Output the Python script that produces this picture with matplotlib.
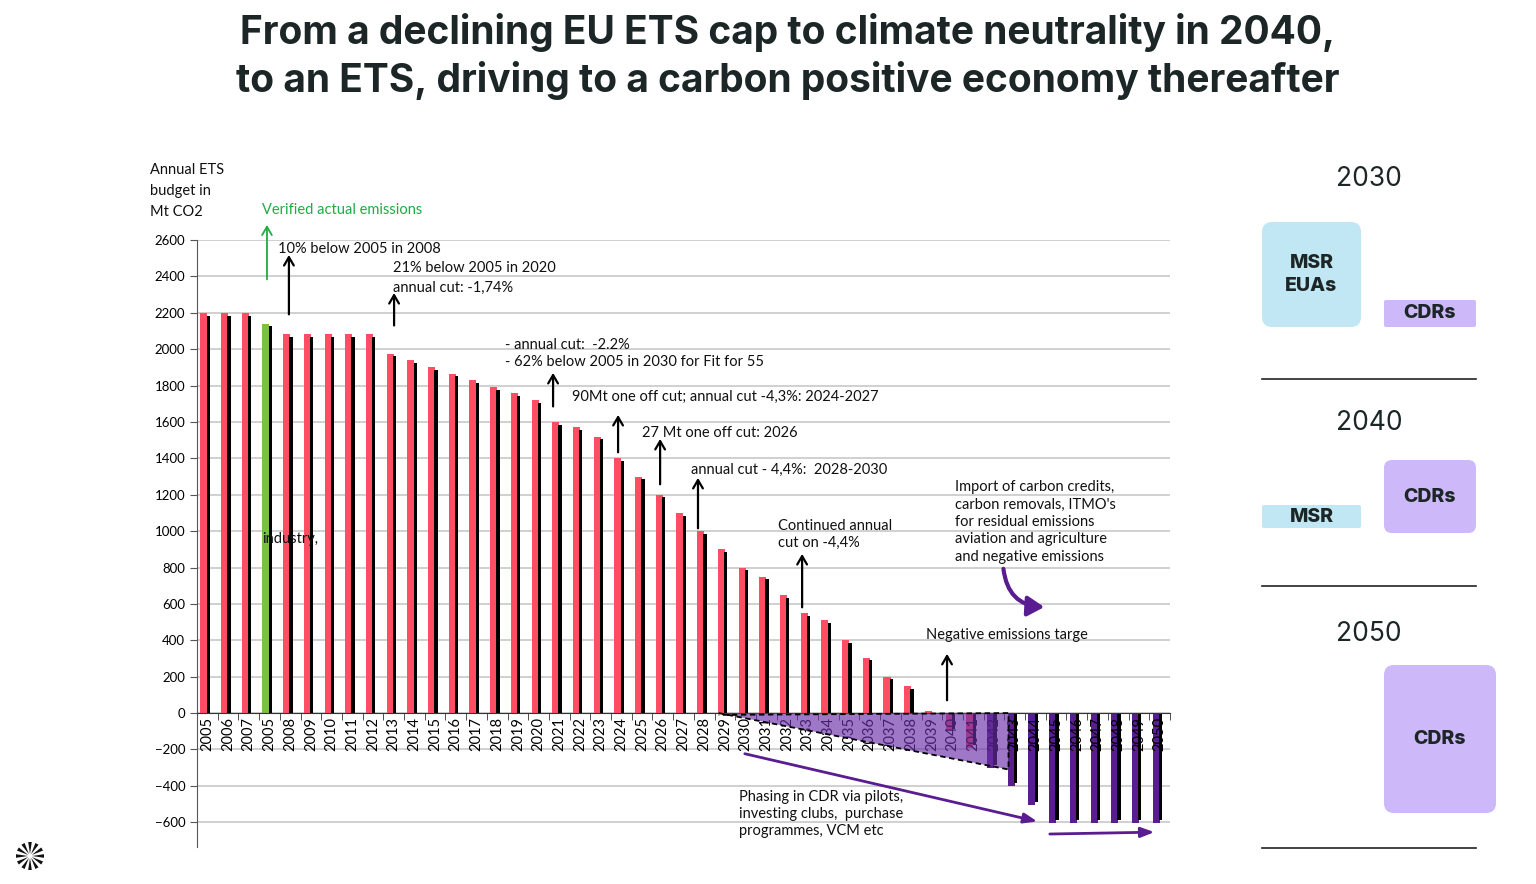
import numpy as np
import matplotlib
matplotlib.use("Agg")
import matplotlib.pyplot as plt
from matplotlib.patches import FancyBboxPatch, Polygon

plt.rcParams['font.family'] = ['Lato', 'DejaVu Sans']

# category labels (the 4th bar is the verified 2005 emissions)
year_labels = ["2005", "2006", "2007", "2005"] + [str(y) for y in range(2008, 2051)]
verified_idx = 3

# annual ETS cap, Mt CO2
cap_values = [2200, 2200, 2200, 2140,
              2083, 2083, 2083, 2083, 2083,
              1975, 1938, 1902, 1866, 1828, 1792, 1757, 1720,
              1600, 1570, 1520, 1400, 1300, 1200, 1100, 1000,
              900, 800, 750, 650, 550, 510, 400, 305, 200, 150, 10,
              -100, -190, -300, -400, -505, -605, -605, -605, -605, -605, -605]
cdr_start_year = "2042"

# CDR phase-in wedge
phase_in_years = ["2029", "2043"]
phase_in_depth = -310

# right-hand panel
panel_years = ["2030", "2040", "2050"]

RED = "#ff4d63"
GREEN = "#7cc242"
PURPLE = "#5a1d91"
DARK = "#1c2626"

fig = plt.figure(figsize=(15.36, 8.84), dpi=100)
ax = fig.add_axes([197 / 1536, 37 / 884, 973 / 1536, 607 / 884])

x = np.arange(len(year_labels))
cap = np.array(cap_values, dtype=float)
cdr_pos = year_labels.index(cdr_start_year)
colors = []
for i in range(len(year_labels)):
    if i == verified_idx:
        colors.append(GREEN)
    elif i >= cdr_pos:
        colors.append(PURPLE)
    else:
        colors.append(RED)

# bar + excel-like black shadow
ax.bar(x - 0.17, cap, width=0.34, color=colors, zorder=3)
shadow = cap - np.sign(cap) * 15
ax.bar(x + 0.04, shadow, width=0.16, color="black", zorder=3)

# phase-in wedge
p0 = year_labels.index(phase_in_years[0]) - 0.3
p1 = year_labels.index(phase_in_years[1]) - 0.3
wedge = Polygon([[p0, 0], [p1, phase_in_depth], [p1, 0]], closed=True,
                facecolor="#6a2fa8", alpha=0.65, edgecolor="none", zorder=4)
ax.add_patch(wedge)
ax.plot([p0, p1, p1, p0], [0, phase_in_depth, 0, -10], ls=(0, (3, 2)),
        color="black", lw=1.3, zorder=5)

ax.set_xlim(-0.5, len(year_labels) - 0.5)
ax.set_ylim(-736, 2600)
ax.set_yticks(np.arange(-600, 2601, 200))
ax.grid(axis="y", color="#c8c8c8", lw=1.2, zorder=0)
ax.set_axisbelow(True)

ax.spines["top"].set_visible(False)
ax.spines["right"].set_visible(False)
ax.spines["bottom"].set_position(("data", 0))
ax.spines["bottom"].set_color("#333333")
ax.spines["bottom"].set_zorder(3.5)
ax.spines["left"].set_color("#555555")
ax.set_xticks(x)
ax.set_xticklabels([])
ax.set_xticks(np.arange(-0.5, len(year_labels), 1), minor=True)
ax.tick_params(axis="x", which="major", length=0)
ax.tick_params(axis="x", which="minor", length=5, color="#333333")
ax.tick_params(axis="y", length=5, labelsize=9.5, colors="#555555", labelcolor="black")

# year labels drawn as texts so they sit on top of the negative bars
for i, lab in enumerate(year_labels):
    ax.text(i, -22, lab, rotation=90, ha="center", va="top", fontsize=10.5,
            color="black", zorder=3.6)

ann_kw = dict(fontsize=10.5, color="#111111")


def up_arrow(xp, y0, y1, color="black", lw=1.6):
    ax.annotate("", xy=(xp, y1), xytext=(xp, y0), annotation_clip=False,
                arrowprops=dict(arrowstyle="->,head_length=0.6,head_width=0.35",
                                color=color, lw=lw), zorder=6)


up_arrow(2.88, 2368, 2698, color="#22aa44", lw=1.3)
ax.text(2.64, 2764, "Verified actual emissions", color="#22aa44", fontsize=10.5,
        va="center", clip_on=False)

up_arrow(3.94, 2176, 2533)
ax.text(3.41, 2550, "10% below 2005 in 2008", va="center", **ann_kw)

up_arrow(9.02, 2115, 2324)
ax.text(8.97, 2445, "21% below 2005 in 2020", va="center", **ann_kw)
ax.text(8.97, 2335, "annual cut: -1,74%", va="center", **ann_kw)

up_arrow(16.7, 1670, 1885)
ax.text(14.38, 2022, "- annual cut:  -2.2%", va="center", **ann_kw)
ax.text(14.38, 1929, "- 62% below 2005 in 2030 for Fit for 55", va="center", **ann_kw)

up_arrow(19.84, 1418, 1654)
ax.text(17.62, 1736, "90Mt one off cut; annual cut -4,3%: 2024-2027", va="center", **ann_kw)

up_arrow(21.87, 1242, 1522)
ax.text(20.99, 1539, "27 Mt one off cut: 2026", va="center", **ann_kw)

up_arrow(23.7, 1000, 1308)
ax.text(23.36, 1335, "annual cut - 4,4%:  2028-2030", va="center", **ann_kw)

up_arrow(28.73, 566, 890)
ax.text(27.57, 981, "Continued annual\ncut on -4,4%", va="center", linespacing=1.3, **ann_kw)

ax.text(36.12, 1050, "Import of carbon credits,\ncarbon removals, ITMO's\nfor residual emissions\n"
        "aviation and agriculture\nand negative emissions", va="center",
        linespacing=1.3, **ann_kw)
ax.annotate("", xy=(40.56, 582), xytext=(38.44, 808),
            arrowprops=dict(arrowstyle="-|>,head_length=1.0,head_width=0.6",
                            color=PURPLE, lw=3, connectionstyle="arc3,rad=0.45"), zorder=6)

up_arrow(35.73, 55, 341)
ax.text(34.72, 429, "Negative emissions targe", va="center", **ann_kw)

ax.text(2.64, 956, "industry,", va="center", zorder=6, **ann_kw)

ax.text(25.68, -555, "Phasing in CDR via pilots,\ninvesting clubs,  purchase\nprogrammes, VCM etc",
        va="center", linespacing=1.3, **ann_kw)
ax.annotate("", xy=(40.22, -599), xytext=(25.83, -220), annotation_clip=False,
            arrowprops=dict(arrowstyle="-|>,head_length=0.8,head_width=0.3",
                            color=PURPLE, lw=2), zorder=6)
ax.annotate("", xy=(45.88, -654), xytext=(40.56, -665), annotation_clip=False,
            arrowprops=dict(arrowstyle="-|>,head_length=0.8,head_width=0.3",
                            color=PURPLE, lw=2), zorder=6)

fig.text(150 / 1536, 1 - 163 / 884, "Annual ETS\nbudget in\nMt CO2", fontsize=10.5,
         va="top", ha="left", linespacing=1.65, color="#111111")

# title
fig.text(0.513, 1 - 33 / 884, "From a declining EU ETS cap to climate neutrality in 2040,",
         ha="center", va="center", fontsize=28, fontweight="bold", color=DARK, family="Inter")
fig.text(0.513, 1 - 80 / 884, "to an ETS, driving to a carbon positive economy thereafter",
         ha="center", va="center", fontsize=28, fontweight="bold", color=DARK, family="Inter")

# right panel + logo in pixel coordinates
pan = fig.add_axes([0, 0, 1, 1], zorder=-1)
pan.set_xlim(0, 1536)
pan.set_ylim(884, 0)
pan.axis("off")

BLUE_BOX = "#c0e7f3"
LILAC_BOX = "#cdb8fa"
panel_title_y = [179, 423, 634]
for yr, ty in zip(panel_years, panel_title_y):
    pan.text(1369, ty, yr, ha="center", va="center", fontsize=19, color=DARK, family="Inter")
for ly in [379, 586, 848]:
    pan.plot([1262, 1476], [ly, ly], color="#222222", lw=1.2)

boxes = [
    (1262, 222, 99, 105, BLUE_BOX, "MSR\nEUAs", 10),
    (1384, 300, 92, 27, LILAC_BOX, "CDRs", 2),
    (1262, 505, 99, 23, BLUE_BOX, "MSR", 2),
    (1384, 460, 92, 73, LILAC_BOX, "CDRs", 8),
    (1384, 665, 112, 148, LILAC_BOX, "CDRs", 10),
]
for bx, by, bw, bh, bc, bt, rr in boxes:
    pan.add_patch(FancyBboxPatch((bx, by), bw, bh,
                                 boxstyle=f"round,pad=0,rounding_size={rr}",
                                 facecolor=bc, edgecolor="none"))
    pan.text(bx + bw / 2, by + bh / 2, bt, ha="center", va="center", fontsize=14,
             fontweight="heavy", color=DARK, linespacing=1.3, family="Inter")

# logo
cx, cy = 30, 856
for a in np.linspace(0, 2 * np.pi, 12, endpoint=False):
    d = np.array([np.cos(a), np.sin(a)])
    n = np.array([-d[1], d[0]])
    pts = [[cx + d[0] * 2, cy + d[1] * 2],
           [cx + d[0] * 14 + n[0] * 1.8, cy + d[1] * 14 + n[1] * 1.8],
           [cx + d[0] * 14 - n[0] * 1.8, cy + d[1] * 14 - n[1] * 1.8]]
    pan.add_patch(Polygon(pts, closed=True, facecolor="#111111", edgecolor="none"))

fig.savefig("out.png", dpi=100, facecolor="white")
